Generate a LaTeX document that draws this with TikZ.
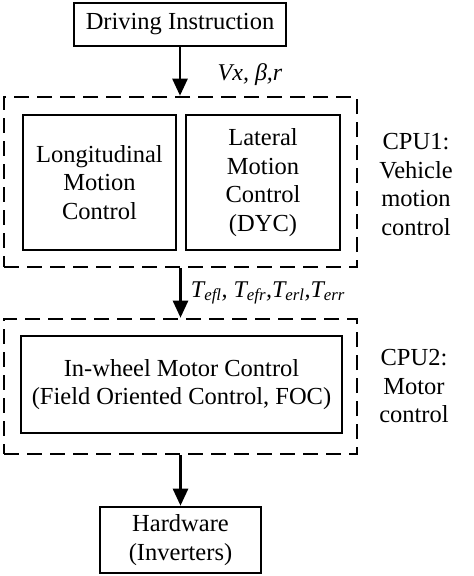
\documentclass[tikz,border=0pt]{standalone}
\usepackage{fontspec}
\setmainfont{Liberation Serif}
\usetikzlibrary{arrows.meta}
\tikzset{
  box/.style={draw, line width=2.6pt, inner sep=0pt, align=center,
    font=\fontsize{24.5pt}{28.5pt}\selectfont},
  dbox/.style={draw, line width=2.6pt, inner sep=0pt, dash pattern=on 15pt off 8pt},
  txt/.style={inner sep=0pt, align=center, font=\fontsize{24.5pt}{28.5pt}\selectfont},
  lbl/.style={inner sep=0pt, font=\fontsize{24pt}{28pt}\selectfont\itshape},
  arr/.style={line width=2.6pt, -{Triangle[width=15pt,length=17pt]}}
}
\begin{document}
\begin{tikzpicture}[x=1pt,y=-1pt]
\useasboundingbox (0,0) rectangle (474,576);
\node[box, minimum width=212pt, minimum height=43pt] (drv) at (180,24.5) {Driving Instruction};
\node[dbox, minimum width=353pt, minimum height=170pt] (cpu1) at (180.5,182) {};
\node[box, minimum width=153pt, minimum height=135pt] (lon) at (99.5,182.5) {Longitudinal\\Motion\\Control};
\node[box, minimum width=154pt, minimum height=135pt] (lat) at (263,182.5) {Lateral\\Motion\\Control\\(DYC)};
\node[txt] (c1) at (416,184.5) {CPU1:\\Vehicle\\motion\\control};
\node[dbox, minimum width=353pt, minimum height=135pt] (cpu2) at (180.5,386.5) {};
\node[box, minimum width=321pt, minimum height=97pt] (iwm) at (181.5,384.5) {In-wheel Motor Control\\(Field Oriented Control, FOC)};
\node[txt] (c2) at (414,386.5) {CPU2:\\Motor\\control};
\node[box, minimum width=161pt, minimum height=66pt] (hw) at (180.5,540) {Hardware\\(Inverters)};
\node[lbl] (l1) at (250,75) {Vx, β,r};
\node[lbl] (l2) at (268,293) {T\textsubscript{efl}, T\textsubscript{efr},T\textsubscript{erl},T\textsubscript{err}};
\draw[arr] (drv.south) -- (drv.south |- cpu1.north);
\draw[arr] (cpu1.south) -- (cpu2.north);
\draw[arr] (cpu2.south) -- (hw.north);
\end{tikzpicture}
\end{document}
